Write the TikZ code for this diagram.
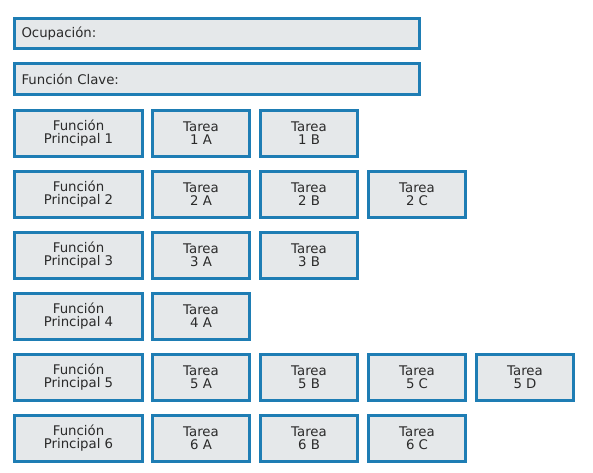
\documentclass[tikz,border=0pt]{standalone}
\usepackage{fontspec}
\setmainfont{DejaVu Sans}
\definecolor{bordc}{HTML}{1E7DB4}
\definecolor{fillc}{HTML}{E5E8EA}
\definecolor{txtc}{HTML}{2A2A2A}
\begin{document}
\begin{tikzpicture}[x=1pt,y=-1pt,
  cell/.style={draw=bordc, fill=fillc, line width=3pt, align=center,
    minimum height=46pt, inner sep=0pt, text=txtc,
    font=\fontsize{13.3}{13.5}\selectfont},
  firstcol/.style={cell, minimum width=128pt},
  task/.style={cell, minimum width=97pt},
  header/.style={draw=bordc, fill=fillc, line width=3pt, align=left,
    minimum height=30pt, text width=391pt, inner xsep=7pt, inner ysep=0pt,
    text=txtc, font=\fontsize{13.3}{13.5}\selectfont}]
\useasboundingbox[fill=white] (0,0) rectangle (593,472);
\node[header] (ocu) at (217,33.5) {Ocupación:};
\node[header, minimum height=31pt] (fcl) at (217,79) {Función Clave:};
% row 1
\node[firstcol] (f1) at (78.5,133) {Función\\Principal 1};
\node[task] (t1a) at (201,133) {Tarea\\1 A};
\node[task] (t1b) at (309,133) {Tarea\\1 B};
% row 2
\node[firstcol] (f2) at (78.5,194) {Función\\Principal 2};
\node[task] (t2a) at (201,194) {Tarea\\2 A};
\node[task] (t2b) at (309,194) {Tarea\\2 B};
\node[task] (t2c) at (417,194) {Tarea\\2 C};
% row 3
\node[firstcol] (f3) at (78.5,255) {Función\\Principal 3};
\node[task] (t3a) at (201,255) {Tarea\\3 A};
\node[task] (t3b) at (309,255) {Tarea\\3 B};
% row 4
\node[firstcol] (f4) at (78.5,316) {Función\\Principal 4};
\node[task] (t4a) at (201,316) {Tarea\\4 A};
% row 5
\node[firstcol] (f5) at (78.5,377) {Función\\Principal 5};
\node[task] (t5a) at (201,377) {Tarea\\5 A};
\node[task] (t5b) at (309,377) {Tarea\\5 B};
\node[task] (t5c) at (417,377) {Tarea\\5 C};
\node[task] (t5d) at (525,377) {Tarea\\5 D};
% row 6
\node[firstcol] (f6) at (78.5,438) {Función\\Principal 6};
\node[task] (t6a) at (201,438) {Tarea\\6 A};
\node[task] (t6b) at (309,438) {Tarea\\6 B};
\node[task] (t6c) at (417,438) {Tarea\\6 C};
\end{tikzpicture}
\end{document}
